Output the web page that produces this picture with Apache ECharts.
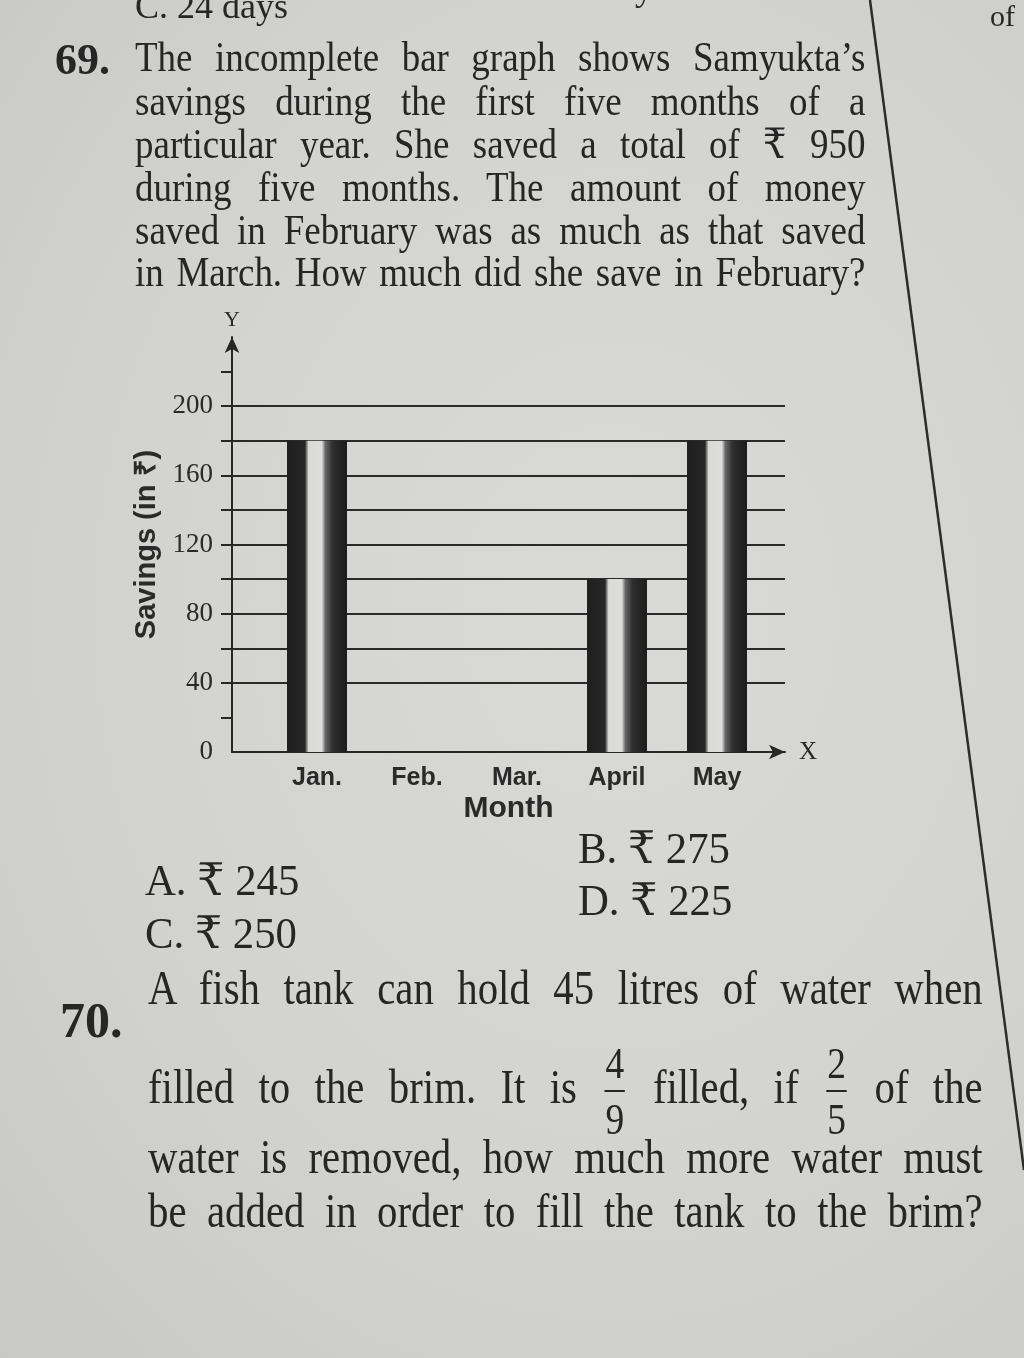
<!DOCTYPE html>
<html>
<head>
<meta charset="utf-8">
<script src="https://cdn.jsdelivr.net/npm/echarts@6/dist/echarts.min.js"></script>
<style>
html,body{margin:0;padding:0;}
body{width:1024px;height:1358px;overflow:hidden;position:relative;
  background:radial-gradient(ellipse at 60% 45%, #d9d9d7 0%, #d3d3d1 55%, #c8c8c6 100%);
  font-family:"Liberation Serif","DejaVu Serif",serif;color:#262626;}
#deco{position:absolute;left:0;top:0;width:1024px;height:1358px;}
#chart{position:absolute;left:0;top:0;width:1024px;height:1358px;}
.t{position:absolute;white-space:nowrap;}
.jl{position:absolute;white-space:normal;text-align:justify;text-align-last:justify;transform-origin:0 0;}
.q69{left:135px;width:830px;font-size:42px;height:44px;line-height:44px;transform:scaleX(0.88);}
.q70{left:148px;width:982px;font-size:48px;height:52px;line-height:52px;transform:scaleX(0.85);}
.num{font-weight:bold;}
.opt{font-size:45px;line-height:48px;transform-origin:0 0;transform:scaleX(0.95);}
.frac{display:inline-flex;flex-direction:column;align-items:center;vertical-align:middle;line-height:1;font-size:44px;margin:0 4px;}
.frac .bar{width:24px;height:2px;background:#262626;margin:4px 0 6px 0;}
</style>
</head>
<body>
<svg id="deco" width="1024" height="1358">
  <line x1="870" y1="0" x2="1024" y2="1170" stroke="#2c2c2c" stroke-width="2.5"/>
</svg>
<div id="chart"></div>

<div class="t" style="left:135px;top:-14px;font-size:36px;line-height:40px;">C. 24 days</div>
<div class="t" style="left:512px;top:-32px;font-size:36px;line-height:40px;">D. 20 days</div>
<div class="t" style="left:990px;top:-4px;font-size:30px;line-height:40px;">of</div>

<div class="t num" style="left:55px;top:38px;font-size:44px;line-height:44px;">69.</div>
<div class="jl q69" style="top:35px;">The incomplete bar graph shows Samyukta’s</div>
<div class="jl q69" style="top:79px;">savings during the first five months of a</div>
<div class="jl q69" style="top:122px;">particular year. She saved a total of ₹ 950</div>
<div class="jl q69" style="top:165px;">during five months. The amount of money</div>
<div class="jl q69" style="top:208px;">saved in February was as much as that saved</div>
<div class="jl q69" style="top:250px;">in March. How much did she save in February?</div>

<div class="t opt" style="left:145px;top:856px;">A. ₹ 245</div>
<div class="t opt" style="left:578px;top:824px;">B. ₹ 275</div>
<div class="t opt" style="left:145px;top:909px;">C. ₹ 250</div>
<div class="t opt" style="left:578px;top:876px;">D. ₹ 225</div>

<div class="t num" style="left:60px;top:994px;font-size:50px;line-height:52px;">70.</div>
<div class="jl q70" style="top:962px;">A fish tank can hold 45 litres of water when</div>
<div class="jl q70" style="top:1042px;height:76px;line-height:76px;">filled to the brim. It is <span class="frac"><span>4</span><span class="bar"></span><span>9</span></span> filled, if <span class="frac"><span>2</span><span class="bar"></span><span>5</span></span> of the</div>
<div class="jl q70" style="top:1131px;">water is removed, how much more water must</div>
<div class="jl q70" style="top:1185px;">be added in order to fill the tank to the brim?</div>

<script>
// ---- data ----
const months = ['Jan.', 'Feb.', 'Mar.', 'April', 'May'];
const savings = [180, null, null, 100, 180];   // Feb and Mar bars are missing (incomplete graph)
const yTickValues = [20, 40, 60, 80, 100, 120, 140, 160, 180, 200, 220];
const yLabelValues = [0, 40, 80, 120, 160, 200];
const monthPositions = [0, 1, 2, 3, 4];

const ink = '#262626';
const barFill = {
  type: 'linear', x: 0, y: 0, x2: 1, y2: 0,
  colorStops: [
    { offset: 0, color: '#1f1f1f' },
    { offset: 0.3, color: '#262626' },
    { offset: 0.36, color: '#dadad8' },
    { offset: 0.58, color: '#dddddb' },
    { offset: 0.64, color: '#666666' },
    { offset: 0.76, color: '#2e2e2e' },
    { offset: 1, color: '#1c1c1c' }
  ]
};

const chart = echarts.init(document.getElementById('chart'), null, { renderer: 'canvas' });
chart.setOption({
  backgroundColor: 'transparent',
  animation: false,
  grid: { left: 232, right: 239, top: 337, bottom: 606, containLabel: false },
  xAxis: [
    {
      type: 'value', min: -0.85, max: 4.68, position: 'bottom',
      name: 'Month', nameLocation: 'middle', nameGap: 42,
      nameTextStyle: { fontFamily: 'Liberation Sans', fontWeight: 'bold', fontSize: 30, color: '#2a2a2a' },
      axisLine: { show: true, onZero: false, symbol: ['none', 'arrow'], symbolSize: [11, 16],
        lineStyle: { color: ink, width: 2 } },
      axisTick: { show: false },
      axisLabel: {
        customValues: monthPositions,
        formatter: v => months[v] || '',
        margin: 14, fontFamily: 'Liberation Sans', fontWeight: 'bold', fontSize: 25, color: '#2a2a2a'
      },
      splitLine: { show: false }
    },
    {
      type: 'value', min: -0.85, max: 4.68, position: 'bottom', offset: 0,
      name: 'X', nameLocation: 'end', nameGap: 14,
      nameTextStyle: { fontFamily: 'Liberation Serif', fontSize: 25, color: '#2a2a2a' },
      axisLine: { show: false, onZero: false }, axisTick: { show: false },
      axisLabel: { show: false }, splitLine: { show: false }
    }
  ],
  yAxis: [
    {
      type: 'value', min: 0, max: 240, interval: 20, position: 'left',
      name: 'Savings (in ₹)', nameLocation: 'middle', nameGap: 66,
      nameTextStyle: { fontFamily: 'Liberation Sans', fontWeight: 'bold', fontSize: 29, color: '#2a2a2a' },
      axisLine: { show: true, onZero: false, symbol: ['none', 'arrow'], symbolSize: [11, 16],
        lineStyle: { color: ink, width: 2 } },
      axisTick: { show: true, length: 11, customValues: yTickValues, lineStyle: { color: ink, width: 2 } },
      axisLabel: {
        formatter: v => (yLabelValues.indexOf(v) >= 0 ? String(v) : ''),
        margin: 19, fontFamily: 'Liberation Serif', fontSize: 27, color: '#2a2a2a'
      },
      splitLine: { show: true, showMinLine: false, showMaxLine: false, lineStyle: { color: '#2a2a2a', width: 1.8 } }
    },
    {
      type: 'value', min: 0, max: 240, position: 'left', offset: 0,
      name: 'Y', nameLocation: 'end', nameGap: 6,
      nameTextStyle: { fontFamily: 'Liberation Serif', fontSize: 22, color: '#2a2a2a' },
      axisLine: { show: false, onZero: false }, axisTick: { show: false },
      axisLabel: { show: false }, splitLine: { show: false }
    }
  ],
  series: [
    {
      type: 'bar', xAxisIndex: 0, yAxisIndex: 0,
      data: months.map((m, i) => [monthPositions[i], savings[i]]),
      barWidth: 60,
      itemStyle: { color: barFill },
      silent: true, z: 3
    }
  ]
});
</script>
</body>
</html>
